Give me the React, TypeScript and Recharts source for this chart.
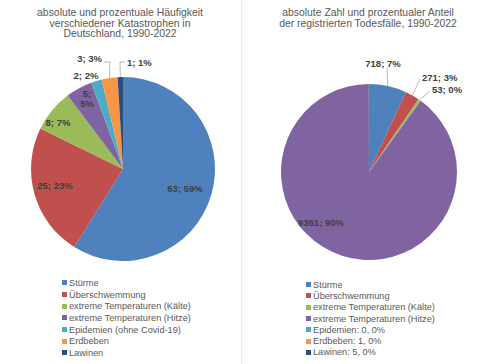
import React from 'react'
import { PieChart, Pie, Cell, Legend } from 'recharts'

const categories = [
  'Stürme',
  'Überschwemmung',
  'extreme Temperaturen (Kälte)',
  'extreme Temperaturen (Hitze)',
  'Epidemien (ohne Covid-19)',
  'Erdbeben',
  'Lawinen',
]
const rightLegendLabels = [
  'Stürme',
  'Überschwemmung',
  'extreme Temperaturen (Kälte)',
  'extreme Temperaturen (Hitze)',
  'Epidemien: 0, 0%',
  'Erdbeben: 1, 0%',
  'Lawinen: 5, 0%',
]
const eventCounts = [63, 25, 8, 5, 2, 3, 1]
const eventPct = [59, 23, 7, 5, 2, 3, 1]
const deathCounts = [718, 271, 53, 9361, 0, 1, 5]
const deathPct = [7, 3, 0, 90, 0, 0, 0]

const colors = ['#4f81bd', '#c0504d', '#9bbb59', '#8064a2', '#4bacc6', '#f79646', '#2c4d75']

const FONT = '"Liberation Sans", Arial, sans-serif'
const RAD = Math.PI / 180
const noMargin = { top: 0, right: 0, bottom: 0, left: 0 }

type LabelCfg = {
  dx: number
  dy: number
  anchor: 'start' | 'middle' | 'end'
  lines?: string[]
  leader?: [number, number][] // points relative to center, edge point is prepended
}

// label layout per slice, offsets relative to pie center
const leftLabelCfg: (LabelCfg | null)[] = [
  { dx: 62, dy: 19, anchor: 'middle' },
  { dx: -68, dy: 16, anchor: 'middle' },
  { dx: -65, dy: -47, anchor: 'middle' },
  { dx: -36, dy: -71, anchor: 'middle', lines: ['5;', '5%'] },
  { dx: -37, dy: -94, anchor: 'middle' },
  { dx: -21, dy: -111, anchor: 'end', leader: [[-13, -107], [-19, -107]] },
  { dx: 4, dy: -107, anchor: 'start', leader: [[-3, -107], [2, -107]] },
]
const rightLabelCfg: (LabelCfg | null)[] = [
  { dx: 14, dy: -109, anchor: 'middle', leader: [[18, -104]] },
  { dx: 53, dy: -95, anchor: 'start', leader: [[51, -93]] },
  { dx: 63, dy: -83, anchor: 'start', leader: [[61, -81]] },
  { dx: -48, dy: 50, anchor: 'middle' },
  null,
  null,
  null,
]

function makeLabel(cfgs: (LabelCfg | null)[], pct: number[]) {
  return (props: any) => {
    const { cx, cy, midAngle, outerRadius, index, value } = props
    const cfg = cfgs[index]
    if (!cfg) return null
    const ex = cx + outerRadius * Math.cos(-midAngle * RAD)
    const ey = cy + outerRadius * Math.sin(-midAngle * RAD)
    const lines = cfg.lines ?? [`${value}; ${pct[index]}%`]
    const x = cx + cfg.dx
    const y = cy + cfg.dy
    return (
      <g key={`lbl-${index}`}>
        {cfg.leader && (
          <polyline
            points={[[ex, ey], ...cfg.leader.map(([px, py]) => [cx + px, cy + py])]
              .map((p) => p.join(','))
              .join(' ')}
            fill="none"
            stroke="#a6a6a6"
            strokeWidth={0.8}
          />
        )}
        <text
          x={x}
          y={y - ((lines.length - 1) * 10) / 2}
          textAnchor={cfg.anchor}
          dominantBaseline="central"
          fill="#404040"
          fontSize={9.5}
          fontWeight="bold"
          fontFamily={FONT}
        >
          {lines.map((l, i) => (
            <tspan key={i} x={x} dy={i === 0 ? 0 : 10}>
              {l}
            </tspan>
          ))}
        </text>
      </g>
    )
  }
}

function makeLegend(labels: string[], step: number) {
  return () => (
    <div style={{ fontFamily: FONT, fontSize: 9.2, color: '#595959' }}>
      {labels.map((l, i) => (
        <div key={l} style={{ display: 'flex', alignItems: 'center', height: step }}>
          <span
            style={{
              display: 'inline-block',
              width: 5,
              height: 5,
              background: colors[i],
              marginRight: 2,
            }}
          />
          <span>{l}</span>
        </div>
      ))}
    </div>
  )
}

const titleStyle: React.CSSProperties = {
  position: 'absolute',
  top: 8,
  width: 240,
  textAlign: 'center',
  fontFamily: FONT,
  fontSize: 10.4,
  lineHeight: '10.7px',
  color: '#595959',
}

export default function App() {
  const leftData = categories.map((name, i) => ({ name, value: eventCounts[i] }))
  const rightData = categories.map((name, i) => ({ name, value: deathCounts[i] }))
  return (
    <div style={{ position: 'absolute', left: 0, top: 0, width: 480, height: 364, background: '#fff' }}>
      <div style={{ position: 'absolute', left: 241, top: 0, width: 1, height: 364, background: '#ececec' }} />
      <div style={{ position: 'absolute', left: 0, top: 0 }}>
        <PieChart width={240} height={364} margin={noMargin}>
          <Pie
            data={leftData}
            dataKey="value"
            nameKey="name"
            cx={123}
            cy={169}
            outerRadius={92}
            startAngle={90}
            endAngle={-270}
            stroke="none"
            label={makeLabel(leftLabelCfg, eventPct)}
            labelLine={false}
            isAnimationActive={false}
          >
            {leftData.map((d, i) => (
              <Cell key={d.name} fill={colors[i]} />
            ))}
          </Pie>
          <Legend
            layout="horizontal"
            align="left"
            verticalAlign="bottom"
            content={makeLegend(categories, 11.7)}
            wrapperStyle={{ left: 62, top: 277, bottom: 'auto', width: 175 }}
          />
        </PieChart>
        <div style={{ ...titleStyle, left: 0 }}>
          absolute und prozentuale Häufigkeit
          <br />
          verschiedener Katastrophen in
          <br />
          Deutschland, 1990-2022
        </div>
      </div>
      <div style={{ position: 'absolute', left: 240, top: 0 }}>
        <PieChart width={240} height={364} margin={noMargin}>
          <Pie
            data={rightData}
            dataKey="value"
            nameKey="name"
            cx={129}
            cy={172}
            outerRadius={88}
            startAngle={90}
            endAngle={-270}
            stroke="none"
            label={makeLabel(rightLabelCfg, deathPct)}
            labelLine={false}
            isAnimationActive={false}
          >
            {rightData.map((d, i) => (
              <Cell key={d.name} fill={colors[i]} />
            ))}
          </Pie>
          <Legend
            layout="horizontal"
            align="left"
            verticalAlign="bottom"
            content={makeLegend(rightLegendLabels, 11.3)}
            wrapperStyle={{ left: 66, top: 279, bottom: 'auto', width: 175 }}
          />
        </PieChart>
        <div style={{ ...titleStyle, left: 0, width: 256 }}>
          absolute Zahl und prozentualer Anteil
          <br />
          der registrierten Todesfälle, 1990-2022
        </div>
      </div>
    </div>
  )
}
